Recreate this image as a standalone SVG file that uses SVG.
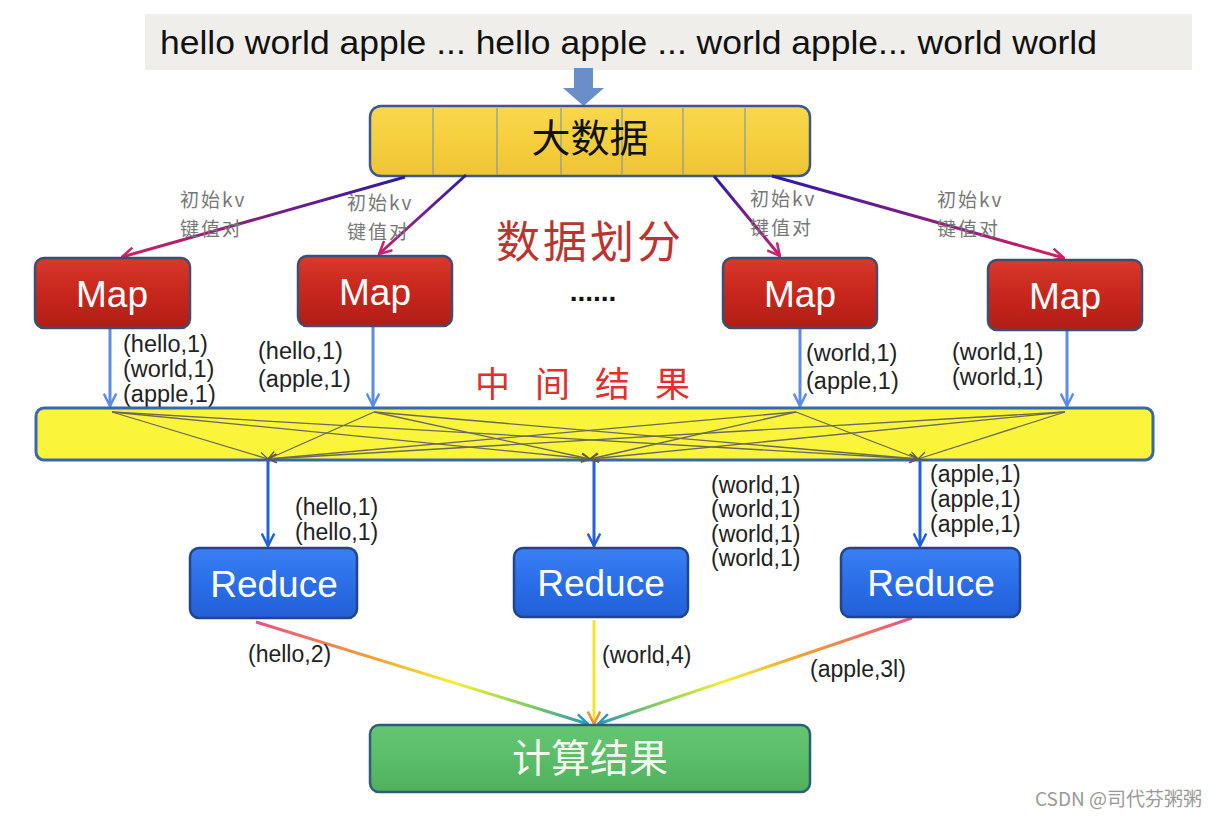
<svg xmlns="http://www.w3.org/2000/svg" width="1220" height="818" viewBox="0 0 1220 818">
<defs>
<style>
.en{font-family:"Liberation Sans",Arial,sans-serif}
.cj{font-family:"Noto Sans CJK SC","Noto Sans",sans-serif}
.lbl{font-family:"Liberation Sans",Arial,sans-serif;font-size:23.5px;fill:#222}
.lbl2{font-family:"Liberation Sans",Arial,sans-serif;font-size:23px;fill:#222}
.kv{font-family:"Noto Sans CJK SC",sans-serif;font-size:19px;fill:#777;letter-spacing:2px}
.boxtxt{font-family:"Liberation Sans",Arial,sans-serif;font-size:37px;fill:#fff;text-anchor:middle}
.gray{stroke:#6a6a5a;stroke-width:1.3;fill:none}
.lb{stroke:#5b8de2;stroke-width:3;fill:none}
.db{stroke:#1f5fe0;stroke-width:3;fill:none}
</style>
<linearGradient id="gRed" x1="0" y1="0" x2="0" y2="1"><stop offset="0" stop-color="#d83a2c"/><stop offset="0.5" stop-color="#c8261c"/><stop offset="1" stop-color="#b01e16"/></linearGradient>
<linearGradient id="gBlue" x1="0" y1="0" x2="0" y2="1"><stop offset="0" stop-color="#3a80f2"/><stop offset="0.5" stop-color="#2b6ee8"/><stop offset="1" stop-color="#2260d6"/></linearGradient>
<linearGradient id="gYel" x1="0" y1="0" x2="0" y2="1"><stop offset="0" stop-color="#f8d84c"/><stop offset="0.5" stop-color="#f5cf3e"/><stop offset="1" stop-color="#eec432"/></linearGradient>
<linearGradient id="gGreen" x1="0" y1="0" x2="0" y2="1"><stop offset="0" stop-color="#64c672"/><stop offset="0.5" stop-color="#5abd68"/><stop offset="1" stop-color="#4fb15e"/></linearGradient>
<linearGradient id="pm1" gradientUnits="userSpaceOnUse" x1="405" y1="177" x2="122" y2="258"><stop offset="0" stop-color="#2a1aa8"/><stop offset="1" stop-color="#d4205e"/></linearGradient>
<linearGradient id="pm2" gradientUnits="userSpaceOnUse" x1="466" y1="175" x2="378" y2="256"><stop offset="0" stop-color="#2a1aa8"/><stop offset="1" stop-color="#c42070"/></linearGradient>
<linearGradient id="pm3" gradientUnits="userSpaceOnUse" x1="714" y1="176" x2="780" y2="258"><stop offset="0" stop-color="#2a1aa8"/><stop offset="1" stop-color="#c42070"/></linearGradient>
<linearGradient id="pm4" gradientUnits="userSpaceOnUse" x1="772" y1="176" x2="1064" y2="259"><stop offset="0" stop-color="#2a1aa8"/><stop offset="1" stop-color="#d4205e"/></linearGradient>
<linearGradient id="rb1" gradientUnits="userSpaceOnUse" x1="256" y1="622" x2="588" y2="724"><stop offset="0" stop-color="#ec4f8a"/><stop offset="0.35" stop-color="#f0a030"/><stop offset="0.6" stop-color="#f4f030"/><stop offset="0.8" stop-color="#8cd05a"/><stop offset="1" stop-color="#2a9ab0"/></linearGradient>
<linearGradient id="rb3" gradientUnits="userSpaceOnUse" x1="912" y1="618" x2="598" y2="724"><stop offset="0" stop-color="#ec4f8a"/><stop offset="0.35" stop-color="#f0a030"/><stop offset="0.6" stop-color="#f4f030"/><stop offset="0.8" stop-color="#8cd05a"/><stop offset="1" stop-color="#2a9ab0"/></linearGradient>
<marker id="aPM" viewBox="0 0 12 12" refX="11" refY="6" markerWidth="5" markerHeight="5" orient="auto" markerUnits="strokeWidth"><path d="M1,1 L11,6 L1,11" fill="none" stroke="#d0206a" stroke-width="2"/></marker>
<marker id="aLB" viewBox="0 0 12 12" refX="11" refY="6" markerWidth="5" markerHeight="5" orient="auto" markerUnits="strokeWidth"><path d="M1,1 L11,6 L1,11" fill="none" stroke="#5b8de2" stroke-width="2"/></marker>
<marker id="aDB" viewBox="0 0 12 12" refX="11" refY="6" markerWidth="5" markerHeight="5" orient="auto" markerUnits="strokeWidth"><path d="M1,1 L11,6 L1,11" fill="none" stroke="#1f5fe0" stroke-width="2"/></marker>
<marker id="aGR" viewBox="0 0 12 12" refX="11" refY="6" markerWidth="8" markerHeight="8" orient="auto" markerUnits="strokeWidth"><path d="M1,1 L11,6 L1,11" fill="none" stroke="#5a5a50" stroke-width="1.5"/></marker>
<marker id="aTE" viewBox="0 0 12 12" refX="11" refY="6" markerWidth="5" markerHeight="5" orient="auto" markerUnits="strokeWidth"><path d="M1,1 L11,6 L1,11" fill="none" stroke="#2a9ab0" stroke-width="2"/></marker>
<marker id="aOR" viewBox="0 0 12 12" refX="11" refY="6" markerWidth="5" markerHeight="5" orient="auto" markerUnits="strokeWidth"><path d="M1,1 L11,6 L1,11" fill="none" stroke="#e8903a" stroke-width="2"/></marker>
</defs>
<rect width="1220" height="818" fill="#ffffff"/>

<g id="input">
<rect x="145" y="14" width="1047" height="56" fill="#efeeeb"/>
<text x="160" y="54" class="en" font-size="34" fill="#111" textLength="937" lengthAdjust="spacingAndGlyphs">hello world apple ... hello apple ... world apple... world world</text>
<path d="M574,68 H593 V88 H604 L583.5,106 L563,88 H574 Z" fill="#6a8fc8"/>
</g>

<g id="bigdata">
<rect x="370" y="106" width="440" height="70" rx="11" fill="url(#gYel)" stroke="#3a5890" stroke-width="2.5"/>
<g stroke="#6e8fb8" stroke-width="1">
<line x1="433" y1="108" x2="433" y2="174"/><line x1="497" y1="108" x2="497" y2="174"/><line x1="561" y1="108" x2="561" y2="174"/><line x1="622" y1="108" x2="622" y2="174"/><line x1="683" y1="108" x2="683" y2="174"/><line x1="745" y1="108" x2="745" y2="174"/>
</g>
<text x="590" y="152" class="cj" font-size="39" fill="#111" text-anchor="middle">大数据</text>
</g>

<g id="connectors">
<line x1="405" y1="177" x2="122" y2="257" stroke="url(#pm1)" stroke-width="3" marker-end="url(#aPM)"/>
<line x1="466" y1="175" x2="379" y2="254" stroke="url(#pm2)" stroke-width="3" marker-end="url(#aPM)"/>
<line x1="714" y1="176" x2="780" y2="256" stroke="url(#pm3)" stroke-width="3" marker-end="url(#aPM)"/>
<line x1="772" y1="176" x2="1064" y2="258" stroke="url(#pm4)" stroke-width="3" marker-end="url(#aPM)"/>

<line x1="110" y1="328" x2="110" y2="406" class="lb" marker-end="url(#aLB)"/>
<line x1="373" y1="326" x2="373" y2="406" class="lb" marker-end="url(#aLB)"/>
<line x1="800" y1="328" x2="800" y2="406" class="lb" marker-end="url(#aLB)"/>
<line x1="1067" y1="330" x2="1067" y2="406" class="lb" marker-end="url(#aLB)"/>

<line x1="268" y1="461" x2="268" y2="546" class="db" marker-end="url(#aDB)"/>
<line x1="594" y1="461" x2="594" y2="546" class="db" marker-end="url(#aDB)"/>
<line x1="920" y1="461" x2="920" y2="546" class="db" marker-end="url(#aDB)"/>

<line x1="256" y1="622" x2="588" y2="724" stroke="url(#rb1)" stroke-width="3" marker-end="url(#aTE)"/>
<line x1="594" y1="620" x2="594" y2="724" stroke="#f4e428" stroke-width="3" marker-end="url(#aOR)"/>
<line x1="912" y1="618" x2="598" y2="724" stroke="url(#rb3)" stroke-width="3" marker-end="url(#aTE)"/>
</g>

<g id="labels-kv">
<text x="180" y="207" class="kv">初始kv</text><text x="180" y="236" class="kv">键值对</text>
<text x="347" y="210" class="kv">初始kv</text><text x="347" y="239" class="kv">键值对</text>
<text x="750" y="206" class="kv">初始kv</text><text x="750" y="235" class="kv">键值对</text>
<text x="937" y="207" class="kv">初始kv</text><text x="937" y="236" class="kv">键值对</text>
<text x="590" y="258" class="cj" font-size="44" fill="#bb3530" text-anchor="middle" letter-spacing="3">数据划分</text>
<text x="593" y="301" class="en" font-size="28" font-weight="bold" fill="#111" text-anchor="middle">......</text>
<text x="595" y="397" class="cj" font-size="35" fill="#e0302a" text-anchor="middle" letter-spacing="25">中间结果</text>
</g>

<g id="map1"><rect x="35" y="258" width="155" height="70" rx="9" fill="url(#gRed)" stroke="#3d4f70" stroke-width="2.5"/><text x="112" y="307" class="boxtxt">Map</text></g>
<g id="map2"><rect x="298" y="256" width="154" height="70" rx="9" fill="url(#gRed)" stroke="#3d4f70" stroke-width="2.5"/><text x="375" y="305" class="boxtxt">Map</text></g>
<g id="map3"><rect x="723" y="258" width="154" height="70" rx="9" fill="url(#gRed)" stroke="#3d4f70" stroke-width="2.5"/><text x="800" y="307" class="boxtxt">Map</text></g>
<g id="map4"><rect x="988" y="260" width="154" height="70" rx="9" fill="url(#gRed)" stroke="#3d4f70" stroke-width="2.5"/><text x="1065" y="309" class="boxtxt">Map</text></g>

<g id="map-out">
<text x="123" y="352" class="lbl">(hello,1)</text><text x="123" y="377" class="lbl">(world,1)</text><text x="123" y="402" class="lbl">(apple,1)</text>
<text x="258" y="359" class="lbl">(hello,1)</text><text x="258" y="387" class="lbl">(apple,1)</text>
<text x="806" y="361" class="lbl">(world,1)</text><text x="806" y="389" class="lbl">(apple,1)</text>
<text x="952" y="360" class="lbl">(world,1)</text><text x="952" y="385" class="lbl">(world,1)</text>
</g>

<g id="shuffle">
<rect x="36" y="408" width="1117" height="52" rx="8" fill="#faf43a" stroke="#3a66b0" stroke-width="3"/>
<g class="gray" marker-end="url(#aGR)">
<line x1="112" y1="412" x2="268" y2="459"/><line x1="112" y1="412" x2="590" y2="459"/><line x1="112" y1="412" x2="918" y2="459"/>
<line x1="374" y1="412" x2="268" y2="459"/><line x1="374" y1="412" x2="590" y2="459"/><line x1="374" y1="412" x2="918" y2="459"/>
<line x1="796" y1="412" x2="268" y2="459"/><line x1="796" y1="412" x2="590" y2="459"/><line x1="796" y1="412" x2="918" y2="459"/>
<line x1="1065" y1="412" x2="268" y2="459"/><line x1="1065" y1="412" x2="590" y2="459"/><line x1="1065" y1="412" x2="918" y2="459"/>
</g>
</g>

<g id="reduce-in">
<text x="295" y="515" class="lbl2">(hello,1)</text><text x="295" y="540" class="lbl2">(hello,1)</text>
<text x="711" y="493" class="lbl2">(world,1)</text><text x="711" y="517" class="lbl2">(world,1)</text><text x="711" y="542" class="lbl2">(world,1)</text><text x="711" y="566" class="lbl2">(world,1)</text>
<text x="930" y="482" class="lbl2">(apple,1)</text><text x="930" y="507" class="lbl2">(apple,1)</text><text x="930" y="532" class="lbl2">(apple,1)</text>
</g>

<g id="reduce1"><rect x="190" y="548" width="167" height="70" rx="9" fill="url(#gBlue)" stroke="#22448a" stroke-width="2.5"/><text x="274" y="597" class="boxtxt" font-size="38">Reduce</text></g>
<g id="reduce2"><rect x="514" y="548" width="174" height="69" rx="9" fill="url(#gBlue)" stroke="#22448a" stroke-width="2.5"/><text x="601" y="596" class="boxtxt" font-size="38">Reduce</text></g>
<g id="reduce3"><rect x="841" y="548" width="179" height="69" rx="9" fill="url(#gBlue)" stroke="#22448a" stroke-width="2.5"/><text x="931" y="596" class="boxtxt" font-size="38">Reduce</text></g>

<g id="reduce-out">
<text x="248" y="662" class="lbl2">(hello,2)</text>
<text x="602" y="663" class="lbl2">(world,4)</text>
<text x="810" y="677" class="lbl2">(apple,3l)</text>
</g>

<g id="result">
<rect x="370" y="725" width="440" height="67" rx="9" fill="url(#gGreen)" stroke="#2e5d77" stroke-width="2.5"/>
<text x="590" y="772" class="cj" font-size="39" fill="#f4f8f0" text-anchor="middle">计算结果</text>
</g>

<text x="1035" y="806" class="cj" font-size="19" fill="#999">CSDN @司代芬粥粥</text>
</svg>
